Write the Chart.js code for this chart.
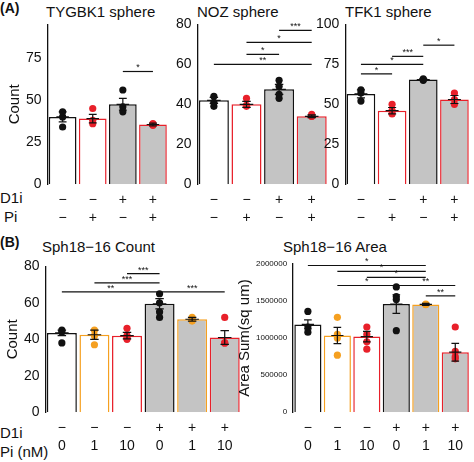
<!DOCTYPE html>
<html><head><meta charset="utf-8">
<script src="https://cdn.jsdelivr.net/npm/chart.js@4"></script>
<style>
body{margin:0;background:#fff;font-family:"Liberation Sans",Arial,sans-serif;}
#wrap{position:relative;width:474px;height:462px;overflow:hidden;}
.c{position:absolute;}
.t{position:absolute;font-size:15px;color:#111;white-space:nowrap;}
.b{font-weight:bold;font-size:14px;}
</style></head><body>
<div id="wrap">
<div class="t b" style="left:0;top:0">(A)</div>
<div class="t" style="left:46px;top:3px">TYGBK1 sphere</div>
<div class="t" style="left:197px;top:3px">NOZ sphere</div>
<div class="t" style="left:345px;top:3px">TFK1 sphere</div>
<div class="t" style="left:0;top:189px">D1i</div>
<div class="t" style="left:4px;top:208px">Pi</div>
<div class="t b" style="left:0;top:234px">(B)</div>
<div class="t" style="left:42px;top:238px">Sph18−16 Count</div>
<div class="t" style="left:283px;top:238px">Sph18−16 Area</div>
<div class="t" style="left:0;top:424px">D1i</div>
<div class="t" style="left:0;top:443px">Pi (nM)</div>
<div class="c" style="left:0;top:14px;width:172px;height:220px"><canvas id="c1"></canvas></div>
<div class="c" style="left:160px;top:14px;width:172px;height:220px"><canvas id="c2"></canvas></div>
<div class="c" style="left:312px;top:14px;width:162px;height:220px"><canvas id="c3"></canvas></div>
<div class="c" style="left:0;top:256px;width:245px;height:206px"><canvas id="c4"></canvas></div>
<div class="c" style="left:232px;top:256px;width:242px;height:206px"><canvas id="c5"></canvas></div>
</div>
<script>
const aLabels = [['−','−'],['−','+'],['+','−'],['+','+']];
const bLabels = [['−','0'],['−','1'],['−','10'],['+','0'],['+','1'],['+','10']];
const aFill = ['#fff','#fff','#c4c4c4','#c4c4c4'];
const aEdge = ['#111','#e8202a','#111','#e8202a'];
const bFill = ['#fff','#fff','#fff','#c4c4c4','#c4c4c4','#c4c4c4'];
const bEdge = ['#111','#f5a020','#e8202a','#111','#f5a020','#e8202a'];

const tygMean = [40, 39, 47.5, 35.5];
const tygSem = [3, 2.5, 3.5, 0.8];
const tygPts = [[43, 40, 34], [45, 38, 36], [56, 46, 43], [36, 35, 35.5]];
const tygSig = [[2, 3, 67, '*']];

const nozMean = [42, 40, 47.5, 34];
const nozSem = [1.5, 1.5, 2.5, 0.7];
const nozPts = [[44, 41, 39], [43, 39, 39.5], [52, 49, 45, 43], [35, 34, 34]];
const nozSig = [[2, 3, 77, '***'], [1, 3, 71, '*'], [1, 2, 65, '*'], [0, 3, 60, '**']];

const tfkMean = [56.5, 46, 65.5, 53];
const tfkSem = [2.5, 2, 0.5, 2.5];
const tfkPts = [[59, 57, 52], [50, 46, 44], [66, 65.5, 65], [57, 53, 50]];
const tfkSig = [[2, 3, 87, '*'], [1, 2, 80, '***'], [0, 2, 75, '*'], [0, 1, 69, '*']];

const cntMean = [43.5, 42.5, 42, 59.5, 51, 41];
const cntSem = [1.5, 2.5, 1.8, 2.8, 1, 3.8];
const cntPts = [[45, 44, 38], [45, 42, 37], [46, 42, 41, 40], [65, 60, 55, 52], [52, 51, 50], [52, 38, 38]];
const cntSig = [[2, 3, 76, '***'], [1, 3, 71, '***'], [0, 3, 66, '**'], [3, 5, 66, '***']];

const areaMean = [1185000, 1035000, 1020000, 1460000, 1455000, 810000];
const areaSem = [60000, 110000, 70000, 125000, 15000, 120000];
const areaPts = [[1360000, 1150000, 1080000], [1280000, 1050000, 1000000, 770000], [1150000, 1050000, 950000, 850000], [1690000, 1560000, 1520000, 1100000], [1460000, 1450000], [1150000, 820000, 750000, 720000]];
const areaSig = [[0, 4, 1980000, '*'], [1, 4, 1900000, '*'], [2, 4, 1820000, '*'], [1, 3, 1710000, '*'], [3, 5, 1710000, '**'], [4, 5, 1570000, '**']];

const extras = {
  id: 'extras',
  afterDatasetsDraw(chart, args, opts) {
    const {ctx, scales: {x, y}} = chart;
    ctx.save();
    ctx.strokeStyle = '#111';
    ctx.lineWidth = 1.2;
    opts.mean.forEach((m, i) => {
      const cx = x.getPixelForValue(i), w = x.width / opts.mean.length * 0.13;
      const hi = y.getPixelForValue(m + opts.sem[i]), lo = y.getPixelForValue(m - opts.sem[i]);
      ctx.beginPath();
      ctx.moveTo(cx, hi); ctx.lineTo(cx, lo);
      ctx.moveTo(cx - w, hi); ctx.lineTo(cx + w, hi);
      ctx.moveTo(cx - w, lo); ctx.lineTo(cx + w, lo);
      ctx.moveTo(cx - w * 1.6, y.getPixelForValue(m)); ctx.lineTo(cx + w * 1.6, y.getPixelForValue(m));
      ctx.stroke();
    });
    ctx.fillStyle = '#111';
    ctx.font = '9px "Liberation Sans", Arial';
    ctx.textAlign = 'center';
    opts.sig.forEach(([a, b, v, s]) => {
      const x1 = x.getPixelForValue(a), x2 = x.getPixelForValue(b), py = y.getPixelForValue(v);
      ctx.beginPath(); ctx.moveTo(x1, py); ctx.lineTo(x2, py); ctx.stroke();
      ctx.fillText(s, (x1 + x2) / 2, py - 1);
    });
    ctx.restore();
  }
};

function make(id, labels, mean, sem, pts, sig, fill, edge, max, step, tickSize, pad, hideTop) {
  const reps = Math.max(...pts.map(g => g.length));
  const dotSets = [];
  for (let k = 0; k < reps; k++) {
    dotSets.push({type: 'line', showLine: false, data: pts.map(g => g[k] ?? null),
      pointBackgroundColor: edge, pointBorderWidth: 0, pointRadius: 3.6, order: 0});
  }
  new Chart(document.getElementById(id), {
    data: {
      labels,
      datasets: [
        ...dotSets,
        {type: 'bar', data: mean, backgroundColor: fill, borderColor: edge, borderWidth: 1.5,
         barPercentage: 0.92, categoryPercentage: 1, order: 1}
      ]
    },
    options: {
      responsive: true, maintainAspectRatio: false, animation: false,
      layout: {padding: pad},
      plugins: {legend: {display: false}, tooltip: {enabled: false},
        extras: {mean, sem, sig}},
      scales: {
        x: {type: 'category', offset: true, grid: {display: false, drawTicks: false}, border: {display: false},
            ticks: {color: '#111', font: {size: 14, family: '"Liberation Sans", Arial', lineHeight: 1.35}, padding: 6}},
        y: {min: 0, max, grid: {display: false, drawTicks: true, tickLength: 4, color: '#111'},
            border: {display: true, color: '#111', width: 1.3},
            title: {display: !!pad.title, text: pad.title || '', color: '#111', font: {size: 15, family: '"Liberation Sans", Arial'}, padding: 0},
            ticks: {stepSize: step, color: '#111', font: {size: tickSize, family: '"Liberation Sans", Arial'}, padding: 2,
                    callback: v => (hideTop && v === max) ? '' : String(v)}}
      }
    },
    plugins: [extras]
  });
}

make('c1', aLabels, tygMean, tygSem, tygPts, tygSig, aFill, aEdge, 95, 25, 14, {left: 6, right: 2, top: 8, title: 'Count'}, true);
make('c2', aLabels, nozMean, nozSem, nozPts, nozSig, aFill, aEdge, 80, 20, 14, {left: 14, right: 2, top: 8});
make('c3', aLabels, tfkMean, tfkSem, tfkPts, tfkSig, aFill, aEdge, 100, 25, 14, {left: 2, right: 2, top: 8});
make('c4', bLabels, cntMean, cntSem, cntPts, cntSig, bFill, bEdge, 80, 20, 14, {left: 4, right: 2, top: 8, title: 'Count'});
make('c5', bLabels, areaMean, areaSem, areaPts, areaSig, bFill, bEdge, 2000000, 500000, 8, {left: 4, right: 2, top: 8, title: 'Area Sum(sq um)'});
</script>
</body></html>
